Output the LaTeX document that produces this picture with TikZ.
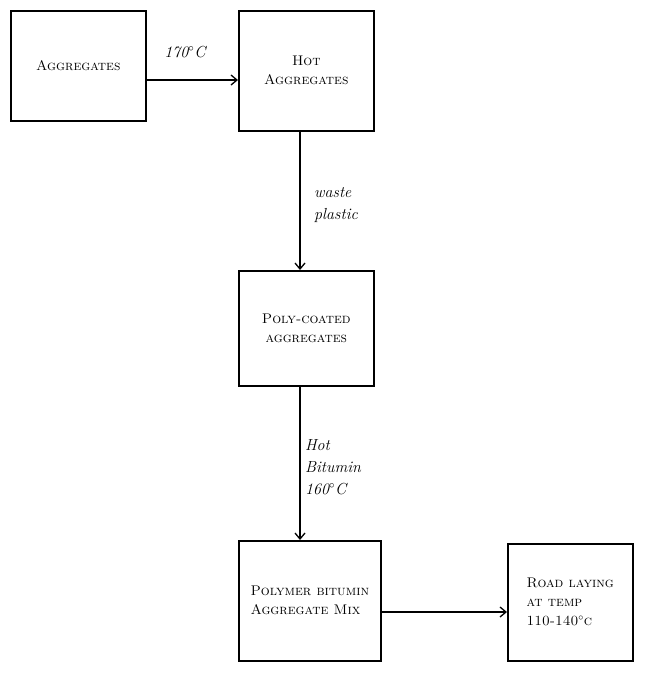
\documentclass[tikz,border=0pt]{standalone}
\usetikzlibrary{arrows.meta}
\begin{document}
\begin{tikzpicture}[x=1pt,y=-1pt,
  bx/.style={draw,line width=1.6pt,anchor=north west,inner sep=0pt,font=\fontsize{14}{19}\selectfont\scshape,align=center},
  ar/.style={-{Straight Barb[length=6pt,width=10pt]},line width=1.3pt},
  lb/.style={font=\fontsize{16}{22}\selectfont\itshape,align=left}]
\useasboundingbox (0,0) rectangle (653,689);
\node[bx,minimum width=135pt,minimum height=110pt] (a) at (10,10) {Aggregates};
\node[bx,minimum width=135pt,minimum height=120pt] (h) at (238,10) {Hot\\Aggregates};
\node[bx,minimum width=135pt,minimum height=115pt] (p) at (238,270) {Poly-coated\\aggregates};
\node[bx,minimum width=142pt,minimum height=120pt,align=left] (m) at (238,540) {Polymer bitumin\\Aggregate Mix};
\node[bx,minimum width=125pt,minimum height=117pt,align=left] (r) at (507,543) {Road laying\\at temp\\110-140$^\circ$c};
\draw[ar] (a.east |- 0,80) -- (h.west |- 0,80);
\node[lb] (l1) at (185,52) {170$^\circ$C};
\draw[ar] (300,130) -- (300,270);
\node[lb] (l2) at (336,205) {waste\\plastic};
\draw[ar] (300,385) -- (300,540);
\node[lb] (l3) at (333,467) {Hot\\Bitumin\\160$^\circ$C};
\draw[ar] (380,612) -- (507,612);
\end{tikzpicture}
\end{document}
